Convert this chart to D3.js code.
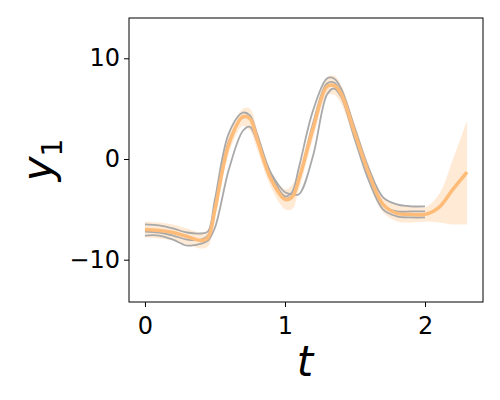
<!DOCTYPE html><html><head><meta charset="utf-8"><script src="https://cdn.jsdelivr.net/npm/d3@7"></script>
<style>body{margin:0;background:#fff}</style></head><body><svg id="c" width="500" height="400"></svg><script>
const tGrey=[0,0.1,0.2,0.3,0.4,0.45,0.5,0.6,0.7,0.75,0.8,0.9,1.0,1.05,1.1,1.2,1.3,1.35,1.4,1.5,1.6,1.7,1.8,1.9,2.0];
const grey1=[-6.5,-6.6,-6.9,-7.3,-7.4,-7.2,-4.0,2.6,4.6,4.3,2.5,-1.5,-3.7,-3.3,-0.8,4.8,8.0,8.0,7.0,3.0,-1.0,-3.8,-4.5,-4.7,-4.7];
const grey2=[-7.2,-7.3,-7.6,-8.0,-8.0,-7.6,-4.8,1.8,4.1,4.0,2.2,-1.8,-3.9,-3.7,-2.0,3.5,7.5,7.6,6.6,2.4,-1.8,-4.6,-5.2,-5.2,-5.2];
const grey3=[-7.6,-7.6,-8.0,-8.6,-8.4,-8.1,-6.8,-1.0,2.8,3.2,1.8,-1.4,-3.3,-3.5,-3.5,0.3,6.4,7.0,6.2,1.9,-2.2,-5.0,-5.7,-5.8,-5.8];
const tMean=[0,0.1,0.2,0.3,0.4,0.45,0.5,0.6,0.7,0.75,0.8,0.9,1.0,1.05,1.1,1.2,1.3,1.35,1.4,1.5,1.6,1.7,1.8,1.9,2.0,2.1,2.2,2.3];
const mean=[-7.0,-7.1,-7.3,-7.7,-8.1,-7.8,-5.0,1.5,4.2,4.0,2.0,-2.0,-4.0,-3.8,-2.0,3.0,7.2,7.3,6.5,2.5,-1.5,-4.5,-5.4,-5.5,-5.5,-4.8,-3.0,-1.3];
const lower=[-7.8,-7.9,-8.1,-8.5,-8.9,-8.7,-6.0,0.6,3.3,2.8,1.0,-2.8,-5.0,-5.0,-3.0,2.0,6.3,6.4,5.5,1.6,-2.3,-5.3,-6.2,-6.3,-6.2,-6.3,-6.5,-6.5];
const upper=[-6.2,-6.3,-6.5,-6.9,-7.3,-7.0,-4.0,2.4,5.0,5.0,3.0,-1.2,-3.0,-2.6,-1.0,4.0,8.1,8.3,7.4,3.4,-0.7,-3.7,-4.6,-4.7,-4.8,-3.5,0.0,3.8];
const xTicks=[0,1,2], yTicks=[-10,0,10];
const svg=d3.select("#c");
const x=d3.scaleLinear().domain([-0.114,2.414]).range([129,483]);
const y=d3.scaleLinear().domain([-14.2,14.0]).range([302,18]);
const cv=d3.curveCatmullRom;
svg.append("path").datum(tMean.map((t,i)=>[t,lower[i],upper[i]]))
 .attr("d",d3.area().x(d=>x(d[0])).y0(d=>y(d[1])).y1(d=>y(d[2])).curve(cv))
 .attr("fill","#ffbb78").attr("opacity",0.3);
for(const g of [grey1,grey2,grey3]){
 svg.append("path").datum(tGrey.map((t,i)=>[t,g[i]]))
  .attr("d",d3.line().x(d=>x(d[0])).y(d=>y(d[1])).curve(cv))
  .attr("fill","none").attr("stroke","#a9a9a9").attr("stroke-width",1.8);
}
svg.append("path").datum(tMean.map((t,i)=>[t,mean[i]]))
 .attr("d",d3.line().x(d=>x(d[0])).y(d=>y(d[1])).curve(cv))
 .attr("fill","none").attr("stroke","#ffbb78").attr("stroke-width",3.5);
svg.append("rect").attr("x",129).attr("y",18).attr("width",354).attr("height",284).attr("fill","none").attr("stroke","#000").attr("stroke-width",1);
const xa=svg.append("g").attr("transform","translate(0,302)").call(d3.axisBottom(x).tickValues(xTicks).tickFormat(d3.format("d")).tickSize(5).tickSizeOuter(0));
const ya=svg.append("g").attr("transform","translate(129,0)").call(d3.axisLeft(y).tickValues(yTicks).tickFormat(d=>d<0?"\u2212"+(-d):d).tickSize(5).tickSizeOuter(0));
[xa,ya].forEach(a=>{a.select(".domain").remove();a.selectAll("line").attr("stroke","#000");a.selectAll("text").style("font-family","DejaVu Sans").style("font-size","24px").attr("fill","#000");});
xa.selectAll("text").attr("dy","1.0em");
ya.selectAll("text").attr("x",-9);
svg.append("text").attr("x",305).attr("y",376).attr("text-anchor","middle").style("font-family","DejaVu Sans").attr("font-style","italic").style("font-size","42px").text("t");
svg.append("text").attr("transform","translate(52,160) rotate(-90)").attr("text-anchor","middle").style("font-family","DejaVu Sans").style("font-size","42px")
 .html('<tspan font-style="italic">y</tspan><tspan style="font-size:28px" dy="10">1</tspan>');
</script></body></html>
